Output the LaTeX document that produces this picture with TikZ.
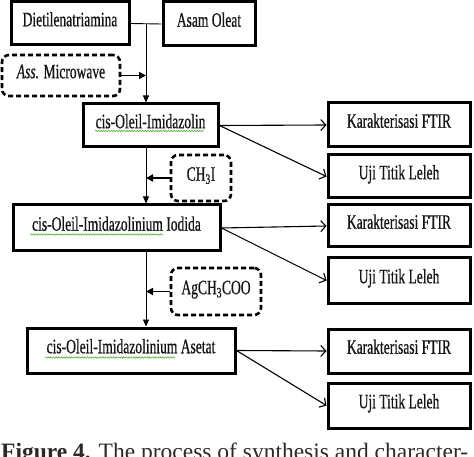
\documentclass[tikz,border=0pt]{standalone}
\usepackage{fontspec}
\setmainfont{Liberation Serif}
\newfontfamily\dfont[FakeStretch=0.66,FakeBold=0.6]{Liberation Serif}
\usetikzlibrary{arrows.meta,decorations.pathmorphing}
\definecolor{txt}{HTML}{141414}
\definecolor{sqg}{HTML}{4FAE3C}
\definecolor{cap}{HTML}{2A2A2A}
\begin{document}
\begin{tikzpicture}[x=1pt,y=-1pt,
  sz/.style 2 args={minimum width=#1pt, minimum height=#2pt},
  boxtxt/.style={inner sep=0pt, text=txt, font=\dfont\fontsize{20.5}{22}\selectfont, text height=13.5pt, text depth=8pt},
  box/.style={boxtxt, draw=black, line width=3pt},
  dbox/.style={boxtxt, draw=black, line width=2.6pt, dash pattern=on 5pt off 3pt, rounded corners=7pt},
  flow/.style={draw=black, line width=0.9pt, -{Triangle[length=7pt,width=6pt]}},
  side/.style={draw=black, line width=1.8pt, -{Triangle[length=7pt,width=7pt]}},
  outarr/.style={draw=black, line width=1.1pt, -{Straight Barb[length=5pt,width=11pt]}},
  plain/.style={draw=black, line width=0.9pt},
  squig/.style={draw=sqg, line width=0.6pt, decorate, decoration={snake, segment length=2.6pt, amplitude=0.7pt}}
]
\useasboundingbox (0,0) rectangle (474,457);
\clip (0,0) rectangle (474,457);

% left column
\node[box, sz={118}{43}] (dien) at (70,23.5) {Dietilenatriamina};
\node[box, sz={92}{44}] (asam) at (209,24) {Asam Oleat};
\node[dbox, sz={118}{41}] (micro) at (61,75.5) {{\itshape Ass.} Microwave};
\node[box, sz={135}{43}] (imid) at (150.5,125.5) {cis-Oleil-Imidazolin};
\node[dbox, sz={60}{46}] (ch3i) at (201,178) {CH\textsubscript{3}I};
\node[box, sz={207}{46}] (iod) at (116.5,228) {cis-Oleil-Imidazolinium Iodida};
\node[dbox, sz={90}{47}] (ag) at (216,291.5) {AgCH\textsubscript{3}COO};
\node[box, sz={208}{45}] (ase) at (131,350.5) {cis-Oleil-Imidazolinium Asetat};

% right column
\node[box, sz={142}{44}] (ftira) at (399,125) {Karakterisasi FTIR};
\node[box, sz={142}{43}] (ujia) at (399,176.5) {Uji Titik Leleh};
\node[box, sz={142}{42}] (ftirb) at (399,226) {Karakterisasi FTIR};
\node[box, sz={142}{45}] (ujib) at (399,280.5) {Uji Titik Leleh};
\node[box, sz={142}{44}] (ftirc) at (399,351) {Karakterisasi FTIR};
\node[box, sz={142}{45}] (ujic) at (399,405.5) {Uji Titik Leleh};

% spelling squiggles
\draw[squig] ([shift={(-55.5,5.5)}]imid.center) -- ([shift={(53.5,5.5)}]imid.center);
\draw[squig] ([shift={(-86.5,6.5)}]iod.center) -- ([shift={(46.5,6.5)}]iod.center);
\draw[squig] ([shift={(-86,7)}]ase.center) -- ([shift={(44,7)}]ase.center);

% main flow
\coordinate (j) at (146,24);
\draw[plain] (dien.east) -- (asam.west);
\draw[flow] (j) -- (j |- imid.north);
\draw[side] (micro.east) -- (micro.east -| j);
\draw[flow] (j |- imid.south) -- (j |- iod.north);
\draw[side] (ch3i.west) -- (ch3i.west -| j);
\draw[flow] (j |- iod.south) -- (j |- ase.north);
\draw[side] (ag.west) -- (ag.west -| j);

% characterisation arrows
\draw[outarr] (imid.east) -- (ftira.west);
\draw[outarr] (imid.east) -- (ujia.west);
\draw[outarr] (iod.east) -- (ftirb.west);
\draw[outarr] (iod.east) -- (ujib.west);
\draw[outarr] (ase.east) -- (ftirc.west);
\draw[outarr] (ase.east) -- (ujic.west);

% caption (cut off by the frame, as in the reference)
\node[anchor=base west, inner sep=0pt, text=cap, font=\fontsize{23.5}{26}\selectfont] (caption) at (1,459.5) {\textbf{Figure 4.} The process of synthesis and character-};
\end{tikzpicture}
\end{document}
